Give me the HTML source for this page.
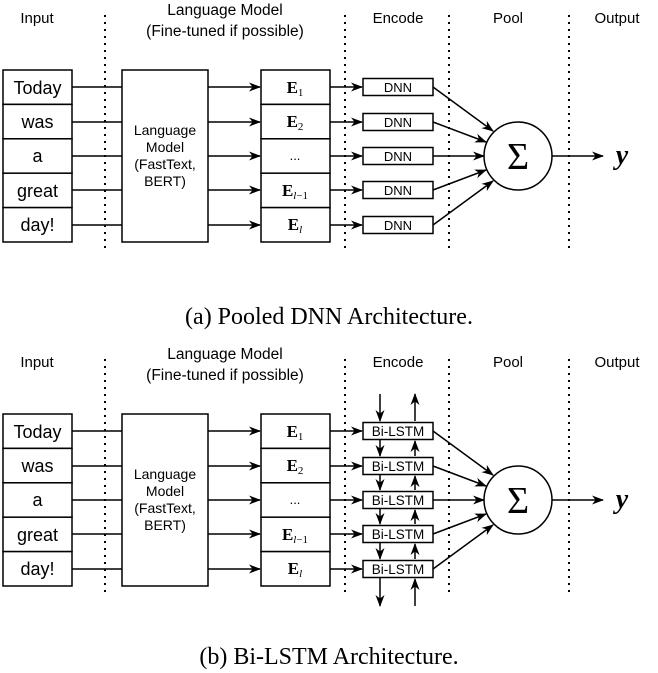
<!DOCTYPE html>
<html><head><style>
html,body{margin:0;padding:0;background:#fff;}
svg{display:block;}
text{font-family:"Liberation Sans",sans-serif;fill:#000;}
.s{font-family:"Liberation Serif",serif;}
</style></head><body>
<svg width="658" height="673" viewBox="0 0 658 673" xmlns="http://www.w3.org/2000/svg">
<defs>
<marker id="a" markerWidth="12" markerHeight="12" refX="11" refY="6" orient="auto" markerUnits="userSpaceOnUse"><path d="M0,1.5 L12,6 L0,10.5 L3.5,6 Z" fill="#000"/></marker>
<g id="base">
 <g stroke="#000" stroke-width="2" stroke-dasharray="2,5" fill="none">
  <line x1="105" y1="15" x2="105" y2="250"/>
  <line x1="345" y1="15" x2="345" y2="250"/>
  <line x1="449" y1="15" x2="449" y2="250"/>
  <line x1="569" y1="15" x2="569" y2="250"/>
 </g>
 <text x="37" y="23" font-size="15" text-anchor="middle">Input</text>
 <text x="225" y="15" font-size="15.5" text-anchor="middle">Language Model</text>
 <text x="225" y="36" font-size="15.5" text-anchor="middle">(Fine-tuned if possible)</text>
 <text x="398" y="23" font-size="15" text-anchor="middle">Encode</text>
 <text x="508" y="23" font-size="15" text-anchor="middle">Pool</text>
 <text x="617" y="23" font-size="15" text-anchor="middle">Output</text>
 <g fill="#fff" stroke="#000" stroke-width="1.5">
  <rect x="3" y="70" width="69" height="34.4"/>
  <rect x="3" y="104.4" width="69" height="34.4"/>
  <rect x="3" y="138.8" width="69" height="34.4"/>
  <rect x="3" y="173.2" width="69" height="34.4"/>
  <rect x="3" y="207.6" width="69" height="34.4"/>
  <rect x="122" y="70" width="86" height="172"/>
  <rect x="261" y="70" width="69" height="34.4"/>
  <rect x="261" y="104.4" width="69" height="34.4"/>
  <rect x="261" y="138.8" width="69" height="34.4"/>
  <rect x="261" y="173.2" width="69" height="34.4"/>
  <rect x="261" y="207.6" width="69" height="34.4"/>
  <circle cx="518" cy="156" r="34"/>
 </g>
 <g font-size="18" text-anchor="middle">
  <text x="37.5" y="94">Today</text>
  <text x="37.5" y="128">was</text>
  <text x="37.5" y="162">a</text>
  <text x="37.5" y="197">great</text>
  <text x="37.5" y="231">day!</text>
 </g>
 <g font-size="14" text-anchor="middle">
  <text x="165" y="135">Language</text>
  <text x="165" y="152">Model</text>
  <text x="165" y="169">(FastText,</text>
  <text x="165" y="186">BERT)</text>
 </g>
 <g class="s" font-size="17" text-anchor="middle">
  <text x="295" y="93" class="s"><tspan font-weight="bold">E</tspan><tspan font-size="11" dy="3">1</tspan></text>
  <text x="295" y="127" class="s"><tspan font-weight="bold">E</tspan><tspan font-size="11" dy="3">2</tspan></text>
  <text x="295" y="160" font-size="13">...</text>
  <text x="295" y="196" class="s"><tspan font-weight="bold">E</tspan><tspan font-size="11" dy="3" font-style="italic">l</tspan><tspan font-size="11">−1</tspan></text>
  <text x="295" y="230" class="s"><tspan font-weight="bold">E</tspan><tspan font-size="11" dy="3" font-style="italic">l</tspan></text>
 </g>
 <g stroke="#000" stroke-width="1.5">
  <line x1="72" y1="87" x2="122" y2="87"/>
  <line x1="72" y1="122" x2="122" y2="122"/>
  <line x1="72" y1="156" x2="122" y2="156"/>
  <line x1="72" y1="190" x2="122" y2="190"/>
  <line x1="72" y1="225" x2="122" y2="225"/>
  <g marker-end="url(#a)">
  <line x1="208" y1="87" x2="260" y2="87"/>
  <line x1="208" y1="122" x2="260" y2="122"/>
  <line x1="208" y1="156" x2="260" y2="156"/>
  <line x1="208" y1="190" x2="260" y2="190"/>
  <line x1="208" y1="225" x2="260" y2="225"/>
  <line x1="330" y1="87" x2="362" y2="87"/>
  <line x1="330" y1="122" x2="362" y2="122"/>
  <line x1="330" y1="156" x2="362" y2="156"/>
  <line x1="330" y1="190" x2="362" y2="190"/>
  <line x1="330" y1="225" x2="362" y2="225"/>
  <line x1="433" y1="87" x2="493" y2="131"/>
  <line x1="433" y1="122" x2="486" y2="142"/>
  <line x1="433" y1="156" x2="484" y2="156"/>
  <line x1="433" y1="190" x2="486" y2="170"/>
  <line x1="433" y1="225" x2="493" y2="181"/>
  <line x1="552" y1="156" x2="603" y2="156"/>
  </g>
 </g>
 <text x="518" y="169" class="s" font-size="38" text-anchor="middle">Σ</text>
 <text x="622" y="164" class="s" font-size="28" font-style="italic" font-weight="bold" text-anchor="middle">y</text>
</g>
</defs>

<use href="#base"/>
<g fill="#fff" stroke="#000" stroke-width="1.5">
 <rect x="363" y="78.5" width="70" height="17"/>
 <rect x="363" y="113.5" width="70" height="17"/>
 <rect x="363" y="147.5" width="70" height="17"/>
 <rect x="363" y="181.5" width="70" height="17"/>
 <rect x="363" y="216.5" width="70" height="17"/>
</g>
<g font-size="13" text-anchor="middle">
 <text x="398" y="92">DNN</text>
 <text x="398" y="127">DNN</text>
 <text x="398" y="161">DNN</text>
 <text x="398" y="195">DNN</text>
 <text x="398" y="230">DNN</text>
</g>
<text x="329" y="324" class="s" font-size="24" text-anchor="middle">(a) Pooled DNN Architecture.</text>

<g transform="translate(0,344)">
 <use href="#base"/>
 <g stroke="#000" stroke-width="1.5" marker-end="url(#a)">
  <line x1="380" y1="50" x2="380" y2="77"/>
  <line x1="380" y1="96" x2="380" y2="112"/>
  <line x1="380" y1="131" x2="380" y2="146"/>
  <line x1="380" y1="165" x2="380" y2="180"/>
  <line x1="380" y1="199" x2="380" y2="215"/>
  <line x1="380" y1="234" x2="380" y2="262"/>
  <line x1="415" y1="262" x2="415" y2="235"/>
  <line x1="415" y1="215" x2="415" y2="200"/>
  <line x1="415" y1="180" x2="415" y2="166"/>
  <line x1="415" y1="146" x2="415" y2="132"/>
  <line x1="415" y1="112" x2="415" y2="97"/>
  <line x1="415" y1="77" x2="415" y2="50"/>
 </g>
 <g fill="#fff" stroke="#000" stroke-width="1.5">
  <rect x="363" y="78.5" width="70" height="17"/>
  <rect x="363" y="113.5" width="70" height="17"/>
  <rect x="363" y="147.5" width="70" height="17"/>
  <rect x="363" y="181.5" width="70" height="17"/>
  <rect x="363" y="216.5" width="70" height="17"/>
 </g>
 <g font-size="13.5" text-anchor="middle">
  <text x="398" y="92">Bi-LSTM</text>
  <text x="398" y="127">Bi-LSTM</text>
  <text x="398" y="161">Bi-LSTM</text>
  <text x="398" y="195">Bi-LSTM</text>
  <text x="398" y="230">Bi-LSTM</text>
 </g>
</g>
<text x="329" y="664" class="s" font-size="24" text-anchor="middle">(b) Bi-LSTM Architecture.</text>
</svg>
</body></html>
